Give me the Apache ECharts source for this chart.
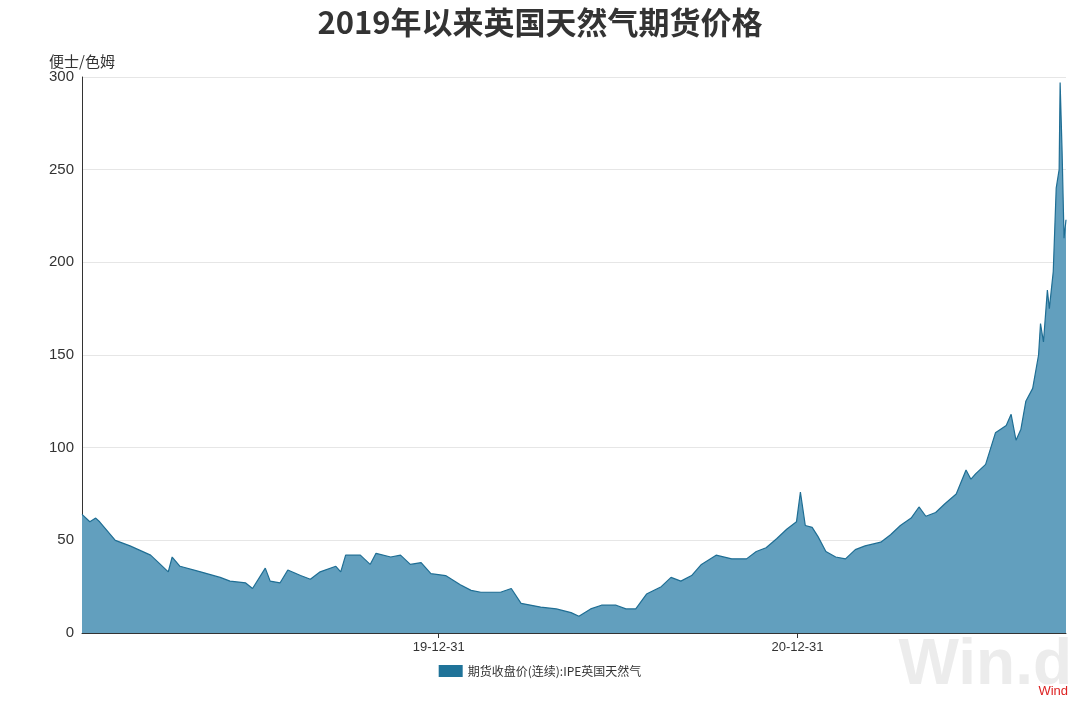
<!DOCTYPE html>
<html><head><meta charset="utf-8">
<script src="https://cdn.jsdelivr.net/npm/echarts@6/dist/echarts.min.js"></script>
<style>html,body{margin:0;padding:0;background:#fff}#c{width:1080px;height:704px}</style>
</head><body><div id="c"></div>
<script>
var dates = ['2019-01-01','2019-01-09','2019-01-15','2019-01-19','2019-02-04','2019-02-19','2019-03-12','2019-03-22','2019-03-30','2019-04-03','2019-04-11','2019-05-02','2019-05-22','2019-06-01','2019-06-17','2019-06-24','2019-07-07','2019-07-12','2019-07-22','2019-07-30','2019-08-12','2019-08-22','2019-09-01','2019-09-17','2019-09-22','2019-09-27','2019-10-12','2019-10-22','2019-10-28','2019-11-12','2019-11-22','2019-12-02','2019-12-13','2019-12-23',
'2020-01-07','2020-01-22','2020-02-02','2020-02-12','2020-03-03','2020-03-14','2020-03-24','2020-04-13','2020-04-29','2020-05-14','2020-05-22','2020-06-03','2020-06-14','2020-06-29','2020-07-09','2020-07-19','2020-07-30','2020-08-14','2020-08-24','2020-09-03','2020-09-14','2020-09-24','2020-10-09','2020-10-25','2020-11-09','2020-11-19','2020-11-29','2020-12-10','2020-12-20','2020-12-30',
'2021-01-03','2021-01-08','2021-01-15','2021-01-21','2021-01-29','2021-02-08','2021-02-18','2021-02-28','2021-03-10','2021-03-26','2021-04-05','2021-04-15','2021-04-26','2021-05-04','2021-05-11','2021-05-21','2021-05-31','2021-06-11','2021-06-21','2021-06-26','2021-07-01','2021-07-11','2021-07-21','2021-08-01','2021-08-06','2021-08-11','2021-08-16','2021-08-21','2021-08-28','2021-09-03','2021-09-05','2021-09-08','2021-09-12','2021-09-14','2021-09-18','2021-09-21','2021-09-24','2021-09-25','2021-09-27','2021-09-29','2021-10-01'];
var prices = [64,60,62,60,50,47,42,37,33,41,36,33,30,28,27,24,35,28,27,34,31,29,33,36,33,42,42,37,43,41,42,37,38,32,
31,26,23,22,22,24,16,14,13,11,9,13,15,15,13,13,21,25,30,28,31,37,42,40,40,44,46,51,56,60,
76,58,57,52,44,41,40,45,47,49,53,58,62,68,63,65,70,75,88,83,86,91,108,112,118,104,110,125,132,150,167,157,185,175,195,240,250,297,260,213,223];
var xLabels = ['2019-12-31','2020-12-31'];
var seriesName = '期货收盘价(连续):IPE英国天然气';

function t(d) { return Date.parse(d + 'T00:00:00Z'); }
var data = [];
for (var i = 0; i < dates.length; i++) data.push([t(dates[i]), prices[i]]);
var labelTimes = xLabels.map(t);

var chart = echarts.init(document.getElementById('c'));
chart.setOption({
    animation: false,
    title: {text: '2019年以来英国天然气期货价格', left: 'center', top: 2,
        textStyle: {fontSize: 31, fontWeight: 'bold', color: '#333', fontFamily: 'Noto Sans CJK SC'}},
    grid: {left: 82, right: 14, top: 77, bottom: 71},
    legend: {bottom: 22, left: 'center', itemWidth: 24, itemHeight: 12, icon: 'rect',
        textStyle: {fontSize: 12, color: '#333', fontFamily: 'Noto Sans CJK SC'}},
    xAxis: {
        type: 'value', min: t('2019-01-01'), max: t('2021-10-01'),
        axisLine: {lineStyle: {color: '#333'}},
        axisTick: {customValues: labelTimes, lineStyle: {color: '#333'}},
        axisLabel: {customValues: labelTimes, color: '#333', fontSize: 13,
            formatter: function (v) { return new Date(v).toISOString().slice(2, 10); }},
        splitLine: {show: false}
    },
    yAxis: {
        type: 'value', min: 0, max: 300, interval: 50,
        name: '便士/色姆', nameGap: 8,
        nameTextStyle: {color: '#333', fontSize: 15, align: 'center', fontFamily: 'Noto Sans CJK SC'},
        axisLine: {show: true, lineStyle: {color: '#333'}},
        axisTick: {show: false},
        axisLabel: {color: '#333', fontSize: 15},
        splitLine: {lineStyle: {color: '#e6e6e6'}}
    },
    series: [{
        name: seriesName, type: 'line', data: data, symbol: 'none',
        itemStyle: {color: '#1f7399'},
        lineStyle: {color: '#1f6e94', width: 1.2},
        areaStyle: {color: '#629fbe', opacity: 1}
    }],
    graphic: [
        {type: 'text', right: 8, bottom: 6, style: {text: 'Win.d', fontSize: 64, fontWeight: 'bold', fill: 'rgba(200,200,200,0.35)', fontFamily: 'Arial'}},
        {type: 'text', right: 12, bottom: 6, style: {text: 'Wind', fontSize: 13, fill: '#d22', fontFamily: 'Arial'}}
    ]
});
</script></body></html>
